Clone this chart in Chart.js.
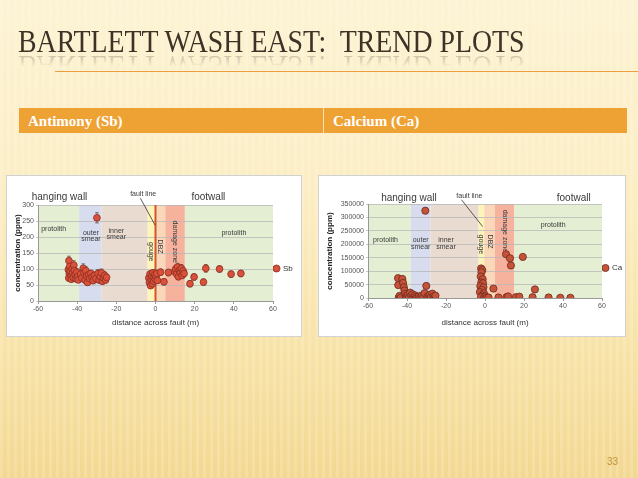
<!DOCTYPE html>
<html>
<head>
<meta charset="utf-8">
<script src="https://cdn.jsdelivr.net/npm/chart.js@4.4.1/dist/chart.umd.min.js"></script>
<style>
  html, body { margin: 0; padding: 0; }
  body {
    width: 638px; height: 478px; position: relative; overflow: hidden;
    font-family: "Liberation Serif", serif;
    background:
      repeating-linear-gradient(90deg, rgba(255,255,255,0.16) 0 3px, rgba(255,255,255,0) 3px 7px),
      linear-gradient(180deg, #fdf3d3 0%, #fcedc3 40%, #f8e3a8 72%, #f3d891 100%);
  }
  #title {
    position: absolute; left: 18px; top: 27px; white-space: pre;
    font-size: 32px; line-height: 28px; height: 28px; color: #3e3226;
    transform: scaleX(0.87); transform-origin: left top;
    -webkit-box-reflect: below -2px linear-gradient(transparent 50%, rgba(0,0,0,0.3));
  }
  #rule { position: absolute; left: 55px; top: 71px; width: 583px; height: 1px; background: #eb9f3e; }
  #bar {
    position: absolute; left: 19px; top: 108px; width: 608px; height: 25px;
    background: #efa234; border-bottom: 2px solid #fcefd0;
  }
  #bar div {
    position: absolute; top: 0; height: 25px; line-height: 26px;
    color: #fff; font-weight: bold; font-size: 15px;
  }
  #bar .c1 { left: 9px; }
  #bar .c2 { left: 304px; border-left: 1px solid #fbe2b5; padding-left: 9px; }
  .panel { position: absolute; background: #fff; border: 1px solid #d2d2d2; }
  #p1 { left: 6px; top: 175px; width: 294px; height: 160px; }
  #p2 { left: 318px; top: 175px; width: 306px; height: 160px; }
  #page { position: absolute; left: 607px; top: 456px; font-size: 10px; color: #c49636; font-family: "Liberation Sans", sans-serif; }
</style>
</head>
<body>
<div id="title">BARTLETT WASH EAST:  TREND PLOTS</div>
<div id="rule"></div>
<div id="bar"><div class="c1">Antimony (Sb)</div><div class="c2">Calcium (Ca)</div></div>
<div class="panel" id="p1"><canvas id="sbChart"></canvas></div>
<div class="panel" id="p2"><canvas id="caChart"></canvas></div>
<div id="page">33</div>

<script>
// ---- data ----
const xTicks = [-60, -40, -20, 0, 20, 40, 60];
const sbTicks = [0, 50, 100, 150, 200, 250, 300];
const caTicks = [0, 50000, 100000, 150000, 200000, 250000, 300000, 350000];

// zone boundaries along the distance axis (m)
const sbZones = [-60, -39, -27.5, -4, 0, 5, 15, 60];
const caZones = [-60, -38, -28, -3.3, -0.4, 5, 15, 60];

// antimony: distance (m), concentration (ppm), error (ppm)
const sbX = [-44.2, -44.5, -44.0, -44.3, -43.8, -43.5, -43.2, -43.0, -42.6, -42.3, -42.0, -41.7, -41.4, -41.0, -40.6, -40.2, -39.8, -39.4,
  -38.3, -37.6, -36.9, -36.5, -36.0, -35.6, -35.2, -34.7, -34.2, -33.6, -33.0, -32.4, -31.8, -31.2, -30.4, -29.9, -29.4, -28.8, -28.2,
  -27.6, -27.1, -26.6, -26.0, -25.5, -25.0,
  -3.4, -3.1, -2.8, -2.5, -2.2, -1.9, -1.6, -1.3, -1.0, -0.7, -0.4, -0.1, 0.3, 0.7, 1.0,
  2.6, 4.3, 6.6, 9.8, 10.3, 10.8, 11.3, 11.7, 12.2, 12.7, 13.2, 13.6, 14.1, 14.6,
  17.6, 19.7, 24.5, 25.7, 32.7, 38.6, 43.6];
const sbY = [126, 98, 85, 72, 108, 92, 78, 68, 100, 88, 74, 112, 95, 82, 70, 90, 76, 66,
  84, 72, 102, 88, 66, 95, 78, 58, 82, 70, 86, 74, 64, 80, 70, 260, 86, 66, 76,
  88, 62, 72, 80, 66, 74,
  72, 58, 84, 48, 66, 78, 54, 88, 62, 74, 82, 68, 78, 86, 64,
  90, 60, 89, 92, 100, 84, 106, 76, 96, 88, 102, 80, 94, 86,
  54, 75, 59, 102, 100, 84, 86];
const sbErr = [14, 12, 10, 10, 12, 10, 10, 8, 12, 10, 10, 14, 10, 10, 10, 12, 10, 8,
  10, 10, 14, 12, 10, 12, 10, 8, 10, 10, 10, 10, 10, 10, 10, 16, 12, 10, 10,
  12, 10, 10, 12, 10, 10,
  10, 8, 10, 8, 10, 10, 8, 10, 8, 10, 10, 8, 10, 10, 8,
  10, 10, 10, 10, 12, 10, 12, 10, 10, 10, 12, 10, 10, 10,
  10, 10, 10, 12, 10, 10, 10];

// calcium: distance (m), concentration (ppm)
const caX = [-44.6, -44.5, -44.2, -43.8, -43.3, -42.4, -42.0, -41.6, -41.3, -41.0, -40.6, -40.2, -39.6, -39.0,
  -38.4, -37.8, -37.2, -36.6, -36.0, -35.4, -34.8, -34.0, -33.2, -32.4, -31.6, -31.0, -30.6, -30.1, -29.6, -29.0,
  -28.4, -27.8, -27.0, -26.4, -25.8, -25.4,
  -2.0, -1.4, -1.8, -2.2, -1.2, -1.9, -1.0, -2.4, -0.8, -1.6, -2.6, -0.6, -1.4, -2.0, -0.4, 0.2, 0.8,
  1.8, 4.3, 6.9, 10.8, 11.0, 11.8, 12.8, 13.3, 15.8, 17.6, 19.4, 24.4, 25.6, 32.6, 38.6, 43.8];
const caY = [74000, 48000, 2000, 8000, 1000, 71000, 56000, 40000, 28000, 16000, 6000, 1000, 12000, 3000,
  20000, 8000, 14000, 2000, 10000, 4000, 1000, 6000, 2000, 9000, 3000, 18000, 325000, 45000, 5000, 1000,
  12000, 4000, 16000, 6000, 2000, 9000,
  110000, 104000, 96000, 80000, 70000, 58000, 55000, 44000, 40000, 30000, 22000, 18000, 10000, 4000, 2000, 6000, 1000,
  2000, 35000, 2000, 163000, 3000, 6000, 148000, 121000, 3000, 5000, 153000, 3000, 32000, 2000, 1000, 1000];

// ---- drawing helpers ----
const zoneColors = ['#e4eed3', '#d7ddef', '#eadbd0', '#fcf4b8', '#fbd7b9', '#f6b29d', '#e4eed3'];
const inkColor = '#3a3a3a';
const sans = '"Liberation Sans", Arial, sans-serif';

function zonePlugin(edges, labels, leader, faultLine) {
  return {
    id: 'zones',
    beforeDraw(chart) {
      const { ctx, chartArea: a, scales: { x } } = chart;
      ctx.save();
      for (let i = 0; i < edges.length - 1; i++) {
        const x0 = x.getPixelForValue(edges[i]);
        const x1 = x.getPixelForValue(edges[i + 1]);
        ctx.fillStyle = zoneColors[i];
        ctx.fillRect(x0, a.top, x1 - x0, a.bottom - a.top);
      }
      ctx.restore();
    },
    beforeDatasetsDraw(chart) {
      const { ctx, chartArea: a, scales: { x, y } } = chart;
      ctx.save();
      if (faultLine) {
        ctx.strokeStyle = '#d4552a';
        ctx.lineWidth = 2;
        const fx = x.getPixelForValue(0);
        ctx.beginPath(); ctx.moveTo(fx, a.top); ctx.lineTo(fx, a.bottom); ctx.stroke();
      }
      ctx.strokeStyle = '#333';
      ctx.lineWidth = 0.8;
      ctx.beginPath();
      ctx.moveTo(x.getPixelForValue(leader[0]), y.getPixelForValue(leader[1]));
      ctx.lineTo(x.getPixelForValue(leader[2]), y.getPixelForValue(leader[3]));
      ctx.stroke();
      ctx.fillStyle = inkColor;
      ctx.textAlign = 'center';
      ctx.textBaseline = 'middle';
      labels.forEach(l => {
        ctx.save();
        ctx.font = l[3] + 'px ' + sans;
        ctx.translate(x.getPixelForValue(l[1]), y.getPixelForValue(l[2]));
        if (l[4]) ctx.rotate(Math.PI / 2);
        ctx.fillText(l[0], 0, 0);
        ctx.restore();
      });
      ctx.restore();
    }
  };
}

function errorBarPlugin(xs, ys, errs) {
  return {
    id: 'errorBars',
    beforeDatasetsDraw(chart) {
      const { ctx, scales: { x, y } } = chart;
      ctx.save();
      ctx.strokeStyle = '#6a4a3a';
      ctx.lineWidth = 0.8;
      xs.forEach((v, i) => {
        const px = x.getPixelForValue(v);
        const top = y.getPixelForValue(ys[i] + errs[i]);
        const bot = y.getPixelForValue(ys[i] - errs[i]);
        ctx.beginPath();
        ctx.moveTo(px, top); ctx.lineTo(px, bot);
        ctx.moveTo(px - 1.8, top); ctx.lineTo(px + 1.8, top);
        ctx.moveTo(px - 1.8, bot); ctx.lineTo(px + 1.8, bot);
        ctx.stroke();
      });
      ctx.restore();
    }
  };
}

function baseOptions(yTicks, yMax, yWidth, xHeight, pad, legendWidth) {
  return {
    responsive: true,
    maintainAspectRatio: false,
    animation: false,
    layout: { padding: pad },
    plugins: {
      legend: {
        position: 'right',
        maxWidth: legendWidth,
        labels: {
          usePointStyle: true, pointStyle: 'circle', boxWidth: 5, boxHeight: 5, padding: 1,
          color: '#333', font: { size: 8, family: sans }
        }
      },
      tooltip: { enabled: false }
    },
    scales: {
      x: {
        type: 'linear', min: -60, max: 60,
        afterBuildTicks: s => { s.ticks = xTicks.map(v => ({ value: v })); },
        afterFit: s => { s.height = xHeight; },
        grid: { drawOnChartArea: false, tickLength: 3, color: '#999' },
        border: { color: '#999' },
        ticks: { color: '#555', padding: 1, font: { size: 7, family: sans } },
        title: { display: true, text: 'distance across fault (m)', color: '#333', padding: { top: 3 },
          font: { size: 8, family: sans } }
      },
      y: {
        min: 0, max: yMax,
        afterBuildTicks: s => { s.ticks = yTicks.map(v => ({ value: v })); },
        afterFit: s => { s.width = yWidth; },
        grid: { color: '#b9b9b9', lineWidth: 0.8, tickLength: 2 },
        border: { color: '#999' },
        ticks: { color: '#555', padding: 2, callback: v => String(v), font: { size: 7, family: sans } },
        title: { display: true, text: 'concentration (ppm)', color: '#222', padding: 1,
          font: { size: 8, weight: 'bold', family: sans } }
      }
    }
  };
}

// ---- antimony chart ----
const sbLabels = [
  ['hanging wall', -49, 325, 10], ['footwall', 27, 325, 10], ['fault line', -6.3, 334, 7],
  ['protolith', -52, 225, 7], ['outer', -33, 211, 7], ['smear', -33, 193, 7],
  ['inner', -20, 219, 7], ['smear', -20, 200, 7],
  ['gouge', -2.2, 154, 7, true], ['DBZ', 2.5, 170, 7, true], ['damage zone', 10, 185, 7, true],
  ['protolith', 40, 213, 7]
];
new Chart('sbChart', {
  type: 'scatter',
  data: {
    datasets: [{
      label: 'Sb',
      data: sbX.map((v, i) => ({ x: v, y: sbY[i] })),
      backgroundColor: '#d9503b', borderColor: '#8a2f20', borderWidth: 0.8,
      pointRadius: 3.4
    }]
  },
  options: baseOptions(sbTicks, 300, 26, 31, { left: 5, top: 29, right: 2, bottom: 4 }, 26),
  plugins: [zonePlugin(sbZones, sbLabels, [-7.7, 321, -0.2, 237], true), errorBarPlugin(sbX, sbY, sbErr)]
});

// ---- calcium chart ----
const caLabels = [
  ['hanging wall', -39, 372000, 10], ['footwall', 45.5, 372000, 10], ['fault line', -8, 380000, 7],
  ['protolith', -51, 215000, 7], ['outer', -33, 215000, 7], ['smear', -33, 190000, 7],
  ['inner', -20, 215000, 7], ['smear', -20, 190000, 7],
  ['gouge', -1.9, 200000, 7, true], ['DBZ', 2.5, 210000, 7, true], ['damage zone', 10, 250000, 7, true],
  ['protolith', 35, 273000, 7]
];
new Chart('caChart', {
  type: 'scatter',
  data: {
    datasets: [{
      label: 'Ca',
      data: caX.map((v, i) => ({ x: v, y: caY[i] })),
      backgroundColor: '#c5533a', borderColor: '#6e2a1c', borderWidth: 0.8,
      pointRadius: 3.6
    }]
  },
  options: baseOptions(caTicks, 350000, 44, 34, { left: 5, top: 28, right: 1, bottom: 4 }, 22),
  plugins: [zonePlugin(caZones, caLabels, [-12.1, 366000, -1.2, 266000], false)]
});
</script>
</body>
</html>
